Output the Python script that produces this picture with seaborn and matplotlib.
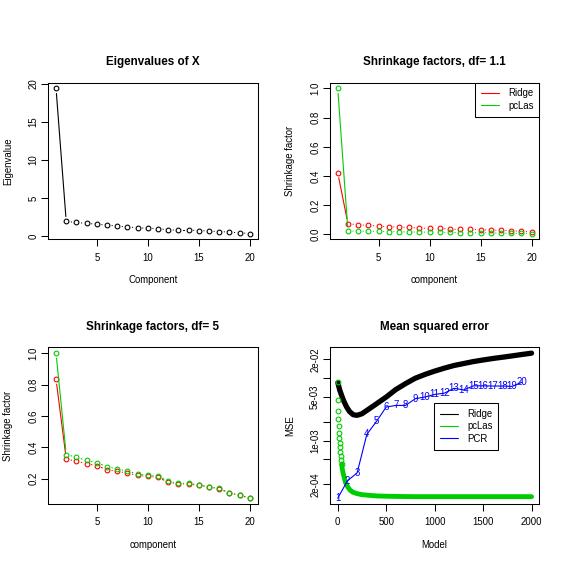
import numpy as np
import matplotlib
matplotlib.use("Agg")
import matplotlib.pyplot as plt
from matplotlib.lines import Line2D
from matplotlib.ticker import NullLocator
import seaborn as sns

# --- data --------------------------------------------------------------
component = list(range(1, 21))
eigenvalue = [19.35, 1.96, 1.83, 1.70, 1.61, 1.48, 1.35, 1.26, 1.13, 1.09,
              1.04, 0.87, 0.83, 0.83, 0.78, 0.70, 0.65, 0.57, 0.48, 0.39]

# shrinkage factors, df = 1.1
ridge_df11 = [0.422, 0.073, 0.066, 0.062, 0.057, 0.053, 0.050, 0.048, 0.043, 0.041,
              0.041, 0.037, 0.034, 0.034, 0.032, 0.030, 0.028, 0.025, 0.021, 0.018]
pclas_df11 = [1.000, 0.023, 0.022, 0.021, 0.020, 0.019, 0.018, 0.017, 0.016, 0.015,
              0.015, 0.013, 0.012, 0.012, 0.011, 0.010, 0.009, 0.008, 0.007, 0.006]

# shrinkage factors, df = 5
ridge_df5 = [0.834, 0.326, 0.311, 0.296, 0.283, 0.258, 0.247, 0.236, 0.221, 0.215,
             0.209, 0.177, 0.168, 0.166, 0.157, 0.147, 0.136, 0.110, 0.095, 0.076]
pclas_df5 = [1.000, 0.354, 0.337, 0.317, 0.302, 0.277, 0.262, 0.249, 0.230, 0.223,
             0.217, 0.183, 0.172, 0.170, 0.162, 0.149, 0.138, 0.110, 0.095, 0.076]

# mean squared error by model
ridge_model = [1, 20, 40, 60, 90, 120, 160, 200, 250, 300, 400, 500, 600, 700,
               800, 900, 1000, 1100, 1200, 1300, 1400, 1500, 1600, 1700, 1800,
               1900, 2000]
ridge_mse = [8.5e-3, 6.5e-3, 5.3e-3, 4.4e-3, 3.5e-3, 2.95e-3, 2.6e-3, 2.55e-3,
             2.7e-3, 3.05e-3, 3.9e-3, 5.0e-3, 6.6e-3, 8.2e-3, 1.0e-2, 1.15e-2,
             1.3e-2, 1.45e-2, 1.6e-2, 1.72e-2, 1.85e-2, 1.96e-2, 2.07e-2,
             2.17e-2, 2.28e-2, 2.4e-2, 2.52e-2]

pclas_model = [1, 3, 5, 7, 10, 13, 16, 20, 24, 27, 31, 36, 41,
               46, 54, 63, 72, 85, 106, 130, 158, 200, 244, 330, 416, 600,
               800, 1000, 1200, 1400, 1600, 1800, 2000]
pclas_mse = [8.6e-3, 4.5e-3, 3.0e-3, 2.23e-3, 1.7e-3, 1.34e-3, 1.11e-3, 9.3e-4,
             7.9e-4, 6.7e-4, 5.7e-4, 4.9e-4, 4.2e-4,
             3.6e-4, 3.1e-4, 2.7e-4, 2.4e-4, 2.05e-4, 1.79e-4, 1.6e-4, 1.49e-4,
             1.42e-4, 1.37e-4, 1.33e-4, 1.30e-4, 1.28e-4,
             1.27e-4, 1.27e-4, 1.27e-4, 1.27e-4, 1.27e-4, 1.27e-4, 1.27e-4]

pcr_model = [0, 100, 200, 300, 400, 500, 600, 700, 800, 900,
             1000, 1100, 1200, 1300, 1400, 1500, 1600, 1700, 1800, 1900]
pcr_mse = [1.2e-4, 2.28e-4, 3.05e-4, 1.26e-3, 2.04e-3, 3.46e-3, 3.67e-3, 3.67e-3,
           4.7e-3, 5.0e-3, 5.5e-3, 5.77e-3, 6.9e-3, 6.5e-3, 7.55e-3, 7.55e-3,
           7.5e-3, 7.5e-3, 7.4e-3, 8.6e-3]
pcr_labels = [str(k) for k in range(1, 21)]

RED, GREEN, BLUE = "#FF0000", "#00CD00", "#0000FF"
FS = 6.9

sns.set_theme(style="ticks", rc={"axes.edgecolor": "black", "xtick.color": "black",
                                 "ytick.color": "black", "text.color": "black",
                                 "axes.labelcolor": "black"})
plt.rcParams["font.family"] = ["Liberation Sans", "DejaVu Sans"]


def r_range(*series, log=False):
    # R's default axis range: data range plus 4% on each side
    v = np.concatenate([np.asarray(s, float) for s in series])
    if log:
        v = np.log10(v)
    lo, hi = v.min(), v.max()
    pad = 0.04 * (hi - lo)
    lo, hi = lo - pad, hi + pad
    return (10 ** lo, 10 ** hi) if log else (lo, hi)


def points(ax, x, y, color):
    sns.lineplot(x=x, y=y, ax=ax, color=color, linestyle="", marker="o",
                 markersize=3.4, markerfacecolor="none", markeredgecolor=color,
                 markeredgewidth=0.8, estimator=None, sort=False)


def gapped(ax, x, y, color, gap=5.0):
    # like R type="b": segments broken around each point, short ones vanish
    pts = ax.transData.transform(np.column_stack([x, y]))
    inv = ax.transData.inverted()
    for p0, p1 in zip(pts[:-1], pts[1:]):
        d = p1 - p0
        L = np.hypot(*d)
        if L <= 2 * gap:
            continue
        u = d / L
        seg = inv.transform([p0 + u * gap, p1 - u * gap])
        ax.plot(seg[:, 0], seg[:, 1], color=color, lw=0.8)


def style(ax, title, xlabel, ylabel):
    ax.set_title(title, fontsize=8.4, fontweight="bold", pad=12.5)
    ax.set_xlabel(xlabel, fontsize=FS, labelpad=9)
    ax.set_ylabel(ylabel, fontsize=FS, labelpad=11)
    ax.tick_params(length=4.7, width=0.75, pad=5, labelsize=FS)
    ax.tick_params(axis="y", labelrotation=90, pad=2.4)
    for lab in ax.get_yticklabels():
        lab.set_va("center")
    for s in ax.spines.values():
        s.set_linewidth(0.75)


def legend(ax, labels, colors, **kw):
    handles = [Line2D([], [], color=c, lw=0.8) for c in colors]
    leg = ax.legend(handles, labels, fontsize=FS, fancybox=False, framealpha=1,
                    edgecolor="black", handlelength=1.9, handletextpad=0.9,
                    borderpad=0.6, labelspacing=0.25, **kw)
    leg.get_frame().set_linewidth(0.75)
    return leg


fig = plt.figure(figsize=(5.64, 5.64), dpi=100)
W, H = 0.3711, 0.2777
ax1 = fig.add_axes([0.0856, 0.5757, W, H])
ax2 = fig.add_axes([0.5851, 0.5757, W, H])
ax3 = fig.add_axes([0.0856, 0.1064, W, H])
ax4 = fig.add_axes([0.5851, 0.1064, W, H])

xl = r_range(component)

# eigenvalues
ax1.set_xlim(xl)
ax1.set_ylim(r_range(eigenvalue))
ax1.set_xticks([5, 10, 15, 20])
ax1.set_yticks([0, 5, 10, 15, 20])
points(ax1, component, eigenvalue, "black")
gapped(ax1, component, eigenvalue, "black")
style(ax1, "Eigenvalues of X", "Component", "Eigenvalue")

# shrinkage, df = 1.1
ax2.set_xlim(xl)
ax2.set_ylim(r_range(ridge_df11, pclas_df11))
ax2.set_xticks([5, 10, 15, 20])
ax2.set_yticks([0.0, 0.2, 0.4, 0.6, 0.8, 1.0])
ax2.set_yticklabels(["0.0", "0.2", "0.4", "0.6", "0.8", "1.0"])
points(ax2, component, ridge_df11, RED)
gapped(ax2, component, ridge_df11, RED)
points(ax2, component, pclas_df11, GREEN)
gapped(ax2, component, pclas_df11, GREEN)
style(ax2, "Shrinkage factors, df= 1.1", "component", "Shrinkage factor")
legend(ax2, ["Ridge", "pcLas"], [RED, GREEN], loc="upper right", borderaxespad=0)

# shrinkage, df = 5
ax3.set_xlim(xl)
ax3.set_ylim(r_range(ridge_df5, pclas_df5))
ax3.set_xticks([5, 10, 15, 20])
ax3.set_yticks([0.2, 0.4, 0.6, 0.8, 1.0])
ax3.set_yticklabels(["0.2", "0.4", "0.6", "0.8", "1.0"])
points(ax3, component, ridge_df5, RED)
gapped(ax3, component, ridge_df5, RED)
points(ax3, component, pclas_df5, GREEN)
gapped(ax3, component, pclas_df5, GREEN)
style(ax3, "Shrinkage factors, df= 5", "component", "Shrinkage factor")

# mean squared error
ax4.set_yscale("log")
ax4.set_xlim(r_range(ridge_model, pclas_model, pcr_model))
ax4.set_ylim(r_range(ridge_mse, pclas_mse, pcr_mse, log=True))
ax4.set_xticks([0, 500, 1000, 1500, 2000])
ax4.set_yticks([2e-4, 5e-4, 1e-3, 2e-3, 5e-3, 1e-2, 2e-2])
ax4.set_yticklabels(["2e-04", "", "1e-03", "", "5e-03", "", "2e-02"])
ax4.yaxis.set_minor_locator(NullLocator())

# dense chains of circles read as solid bands
sns.lineplot(x=ridge_model, y=ridge_mse, ax=ax4, color="black", linewidth=3.8,
             solid_capstyle="round", estimator=None, sort=False)
band = [i for i, m in enumerate(pclas_model) if m >= 41]
sns.lineplot(x=[pclas_model[i] for i in band], y=[pclas_mse[i] for i in band],
             ax=ax4, color=GREEN, linewidth=3.5, solid_capstyle="round",
             estimator=None, sort=False)
loose = [i for i, m in enumerate(pclas_model) if m <= 41]
points(ax4, [pclas_model[i] for i in loose], [pclas_mse[i] for i in loose], GREEN)
sns.lineplot(x=pcr_model, y=pcr_mse, ax=ax4, color=BLUE, linewidth=0.8,
             estimator=None, sort=False)
for xm, ym, lab in zip(pcr_model, pcr_mse, pcr_labels):
    ax4.text(xm, ym, lab, color=BLUE, fontsize=FS, ha="center", va="center")
style(ax4, "Mean squared error", "Model", "MSE")
legend(ax4, ["Ridge", "pcLas", "PCR"], ["black", GREEN, BLUE],
       loc="upper left", bbox_to_anchor=(0.499, 0.643), borderaxespad=0)

fig.savefig("out.png", dpi=100)
